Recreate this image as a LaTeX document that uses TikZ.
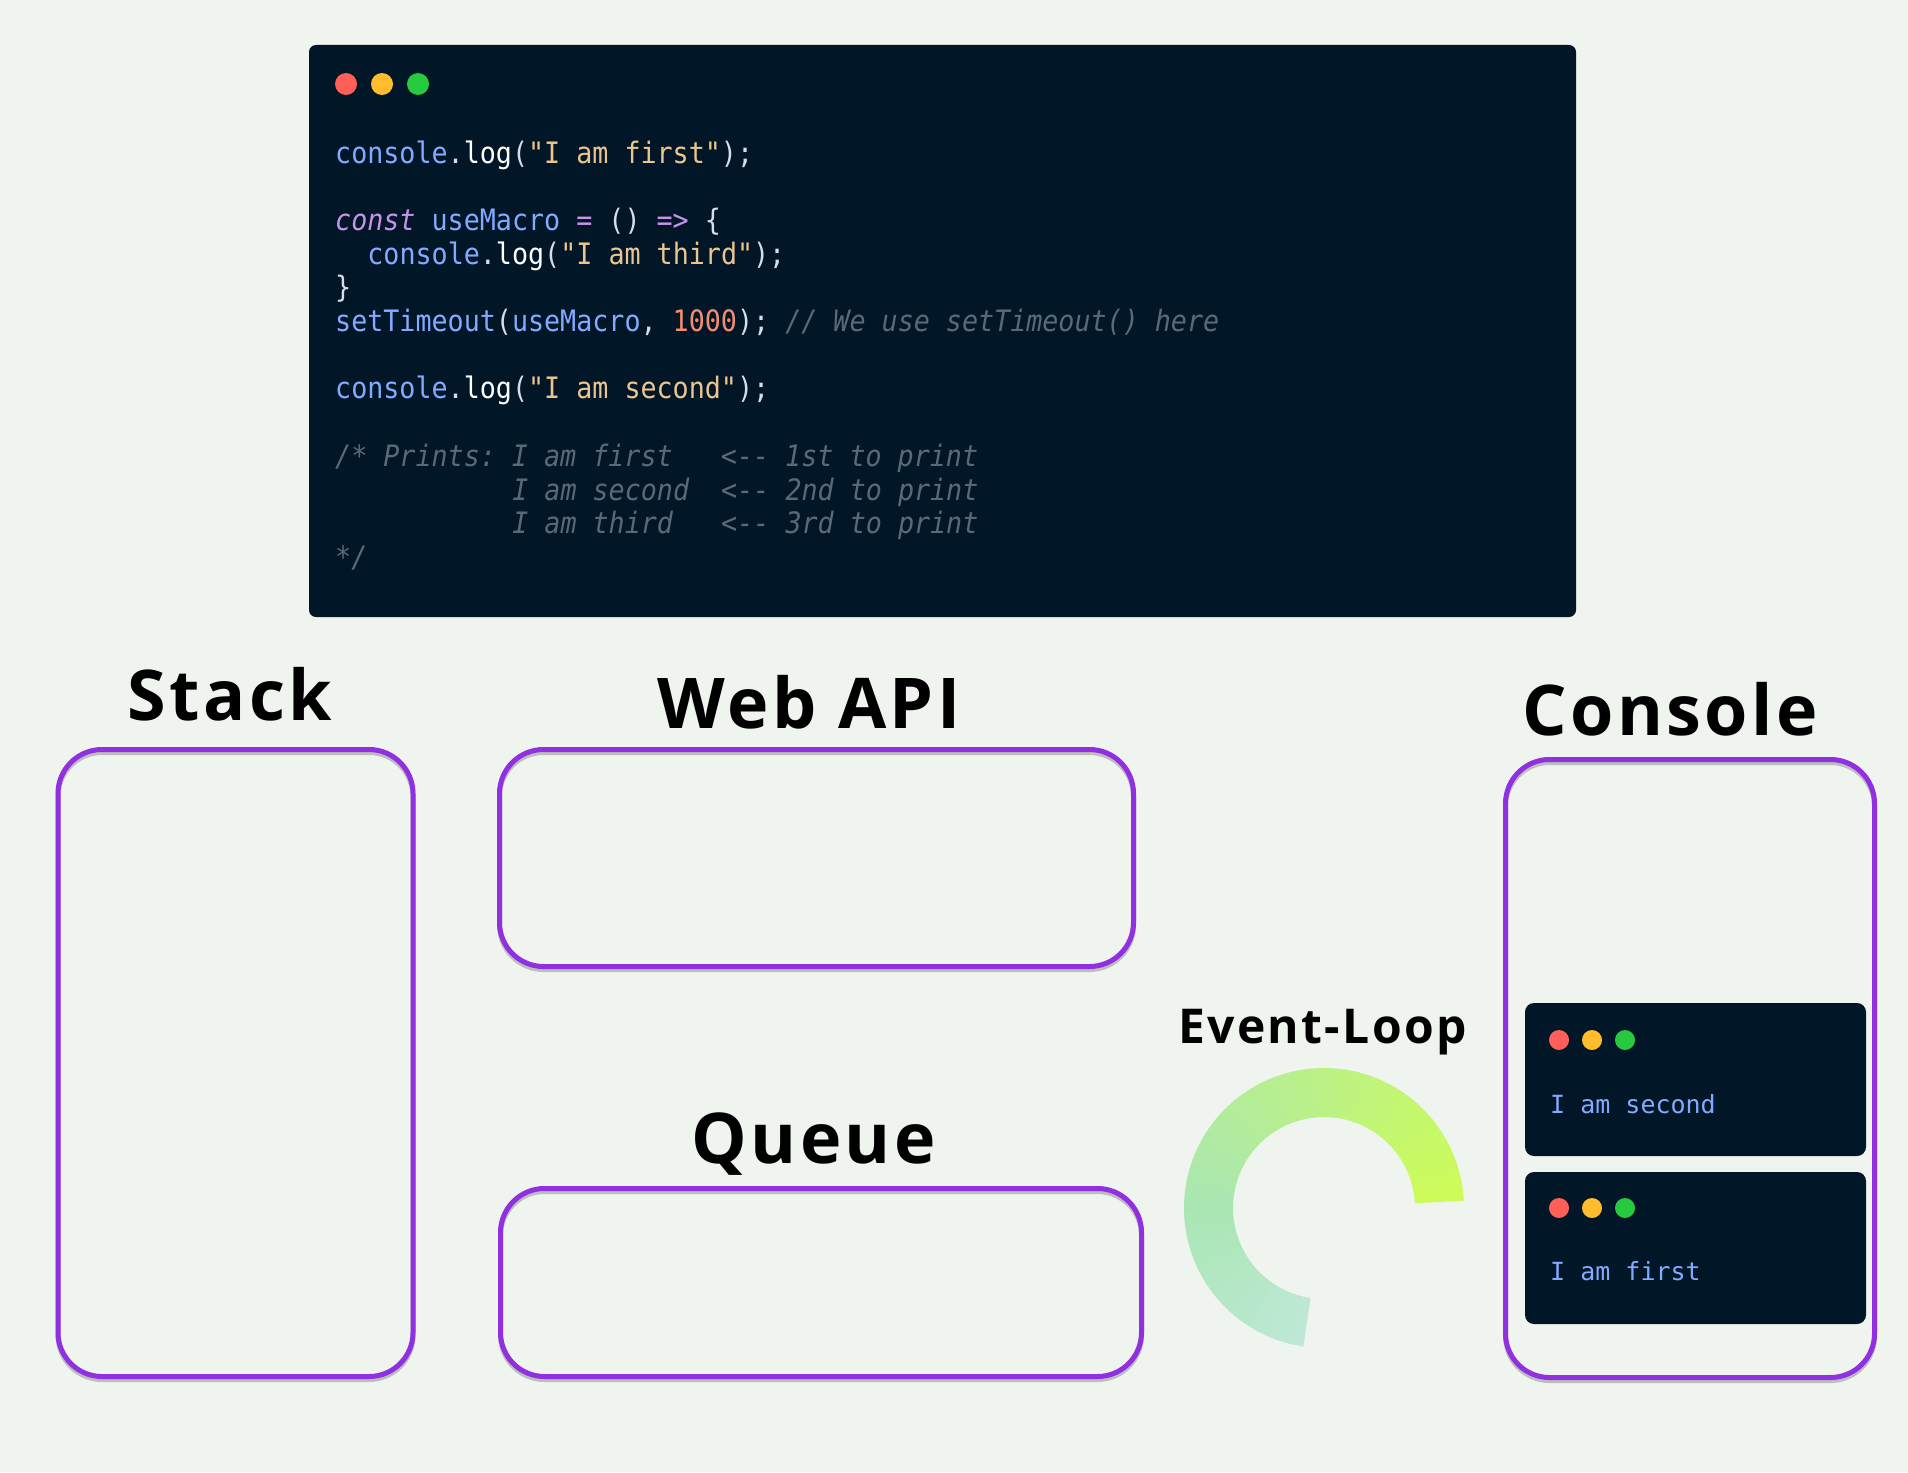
\documentclass[tikz,border=0pt]{standalone}
\usepackage{fontspec}
\setmonofont{DejaVu Sans Mono}[FakeStretch=0.905,
   ItalicFont={DejaVu Sans Mono Oblique}, BoldFont={DejaVu Sans Mono Bold}]
\newfontfamily\titlefont{Open Sans}[LetterSpace=5]
\newfontfamily\outfont{DejaVu Sans Mono}
\definecolor{ELbg}{HTML}{F0F4EF}
\definecolor{ELnavy}{HTML}{011627}
\definecolor{ELpurple}{HTML}{9130E0}
\definecolor{ELblue}{HTML}{82AAFF}
\definecolor{ELsand}{HTML}{ECC48D}
\definecolor{ELlilac}{HTML}{C792EA}
\definecolor{ELorange}{HTML}{F78C6C}
\definecolor{ELcomment}{HTML}{586A76}
\definecolor{ELpunct}{HTML}{D6DEEB}
\definecolor{ELred}{HTML}{FF5F56}
\definecolor{ELamber}{HTML}{FFBD2E}
\definecolor{ELgreen}{HTML}{27C93F}
\definecolor{ELlime}{HTML}{CDFC58}
\definecolor{ELmint}{HTML}{AAE6B4}
\definecolor{ELfoam}{HTML}{BEE8D6}
\usetikzlibrary{shadows}
\newcommand{\jsfn}[1]{\textcolor{ELblue}{#1}}
\newcommand{\jsstr}[1]{\textcolor{ELsand}{#1}}
\newcommand{\jskw}[1]{\textcolor{ELlilac}{#1}}
\newcommand{\jsnum}[1]{\textcolor{ELorange}{#1}}
\newcommand{\jsrem}[1]{\textcolor{ELcomment}{\itshape #1}}
\newcommand{\jslog}{\textcolor{white}{log}}

\begin{document}
\begin{tikzpicture}[x=1pt, y=-1pt,
      box/.style={draw=ELpurple, line width=5pt, rounded corners=44pt, inner sep=0pt,
         drop shadow={shadow xshift=0pt, shadow yshift=-3pt, opacity=.22,
            fill=none, draw=black, line width=5pt}},
      codebox/.style={fill=ELnavy, rounded corners=7pt, inner sep=0pt},
      dot/.style={circle, inner sep=0pt, minimum size=22pt},
      code/.style={font=\ttfamily\fontsize{29.5}{34}\selectfont, text=ELpunct,
         anchor=base west, inner sep=0pt},
      outtext/.style={font=\outfont\fontsize{25}{30}\selectfont, text=ELblue,
         anchor=base west, inner sep=0pt},
      title/.style={font=\titlefont\bfseries\fontsize{70}{78}\selectfont,
         anchor=base, inner sep=0pt},
   ]
   \useasboundingbox (0,0) rectangle (1908,1472);
   \fill[ELbg] (0,0) rectangle (1908,1472);

   % code window
   \node[codebox, minimum width=1267pt, minimum height=572pt] (code) at (942.5,331) {};
   \node[dot, fill=ELred] (r0) at (346,84) {};
   \node[dot, fill=ELamber] (y0) at (382,84) {};
   \node[dot, fill=ELgreen] (g0) at (418,84) {};

   \node[code] (c1) at (335,163) {\jsfn{console}.\jslog(\jsstr{"I am first"});};
   \node[code] (c2) at (335,230.4) {\jskw{\itshape const} \jsfn{useMacro} \jskw{=} () \jskw{=>} \{};
   \node[code] (c3) at (367.2,264.1) {\jsfn{console}.\jslog(\jsstr{"I am third"});};
   \node[code] (c4) at (335,297.8) {\}};
   \node[code] (c5) at (335,331.5)
      {\jsfn{setTimeout}(\jsfn{useMacro}, \jsnum{1000}); \jsrem{// We use setTimeout() here}};
   \node[code] (c6) at (335,398.9) {\jsfn{console}.\jslog(\jsstr{"I am second"});};
   \node[code] (c7) at (335,466.3) {\jsrem{/* Prints: I am first\ \ \ <-- 1st to print}};
   \node[code] (c8) at (512.1,500) {\jsrem{I am second\ \ <-- 2nd to print}};
   \node[code] (c9) at (512.1,533.7) {\jsrem{I am third\ \ \ <-- 3rd to print}};
   \node[code] (c10) at (335,567.4) {\jsrem{*/}};

   % titles
   \node[title] (tstack) at (230,720) {Stack};
   \node[title] (twebapi) at (809,728) {Web API};
   \node[title] (tconsole) at (1670,735) {Console};
   \node[title] (tqueue) at (813.5,1163) {Queue};
   \node[title, font=\titlefont\bfseries\fontsize{48}{56}\selectfont] (tloop) at (1322.5,1043) {Event-Loop};

   % boxes
   \node[box, minimum width=355pt, minimum height=627pt] (stack) at (235.5,1063) {};
   \node[box, minimum width=634pt, minimum height=217pt] (webapi) at (816.5,858) {};
   \node[box, minimum width=641pt, minimum height=188pt] (queue) at (821,1282.5) {};
   \node[box, minimum width=369pt, minimum height=618pt] (console) at (1690,1068.5) {};

   % console output
   \node[codebox, rounded corners=9pt, minimum width=341pt, minimum height=153pt] (out2) at (1695.5,1079.5) {};
   \node[dot, minimum size=20pt, fill=ELred] (r2) at (1559,1040) {};
   \node[dot, minimum size=20pt, fill=ELamber] (y2) at (1592,1040) {};
   \node[dot, minimum size=20pt, fill=ELgreen] (g2) at (1625,1040) {};
   \node[outtext] (o2) at (1550,1113) {I am second};

   \node[codebox, rounded corners=9pt, minimum width=341pt, minimum height=152pt] (out1) at (1695.5,1248) {};
   \node[dot, minimum size=20pt, fill=ELred] (r1) at (1559,1208) {};
   \node[dot, minimum size=20pt, fill=ELamber] (y1) at (1592,1208) {};
   \node[dot, minimum size=20pt, fill=ELgreen] (g1) at (1625,1208) {};
   \node[outtext] (o1) at (1550,1280) {I am first};

   % event loop ring
   \begin{scope}[shift={(1324,1208)}]
      \foreach \i in {0,...,128} {
         \pgfmathsetmacro\s{3+2.004*\i}
         \pgfmathsetmacro\e{min(\s+2.4,261.5)}
         \pgfmathsetmacro\m{\s+1}
         \ifdim\m pt<180pt
            \pgfmathsetmacro\p{(\m-3)/177*100}
            \colorlet{segcol}{ELmint!\p!ELlime}
         \else
            \pgfmathsetmacro\p{min((\m-180)/81.5*100,100)}
            \colorlet{segcol}{ELfoam!\p!ELmint}
         \fi
         \fill[segcol] (-\s:140) arc[start angle=-\s, end angle=-\e, radius=140]
            -- (-\e:91) arc[start angle=-\e, end angle=-\s, radius=91] -- cycle;
      }
   \end{scope}
\end{tikzpicture}
\end{document}
